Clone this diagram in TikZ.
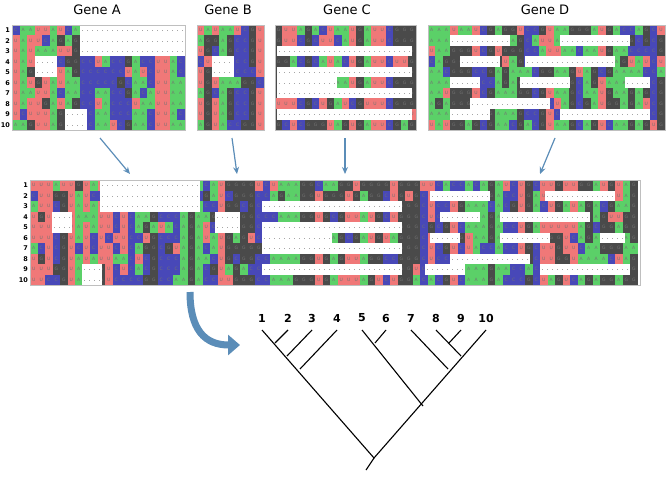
\documentclass[tikz,border=0pt]{standalone}
\usepackage{fontspec}
\setmainfont{DejaVu Sans}
\usetikzlibrary{arrows.meta}
\definecolor{cg}{HTML}{4A4A4A}
\definecolor{cb}{HTML}{4848B8}
\definecolor{ca}{HTML}{5BD068}
\definecolor{cu}{HTML}{F07878}
\definecolor{arr}{HTML}{5B8DB8}
\tikzset{gap/.style={fill=white},lt/.style={font=\fontsize{4.5}{4.5}\selectfont,text=black!55,inner sep=0},
 num/.style={font=\bfseries\fontsize{6.5}{6.5}\selectfont,anchor=east,inner sep=0},
 genel/.style={font=\fontsize{13}{13}\selectfont},
 conn/.style={arr,line width=1.2pt,-{Stealth[length=7pt,width=6pt]}},
 tree/.style={line width=1.1pt}}
\newcommand\alnpanel[5]{%
 \foreach \c in {1,...,#3}{%
  \pgfmathrandominteger{\base}{0}{3}%
  \foreach \r in {0,...,9}{%
   \pgfmathrandominteger{\v}{0}{9}%
   \ifnum\v<3 \pgfmathrandominteger{\k}{0}{3}\else\let\k\base\fi
   \ifcase\k \def\cl{cg}\def\ltr{G}\or\def\cl{cb}\def\ltr{C}\or\def\cl{ca}\def\ltr{A}\or\def\cl{cu}\def\ltr{U}\fi
   \fill[\cl] ({#1+(\c-1)*#4},{#2+\r*10.5}) rectangle ++(#4,10.5);
   \node[lt] at ({#1+(\c-0.5)*#4},{#2+\r*10.5+5.25}) {\ltr};
  }}%
 \ifnum#5=1 \foreach \r in {1,...,10}{\node[num] at ({#1-2},{#2+(\r-0.5)*10.5}) {\r};}\fi
}
\newcommand\gp[4]{\fill[gap] ({#1},{#2*10.5+#4}) rectangle ++(#3,10.5);
 \draw[black!35,dash pattern=on 1pt off 4pt] ({#1+2},{#2*10.5+#4+5.5}) -- ++(#3-4,0);}
\begin{document}
\begin{tikzpicture}[x=1pt,y=-1pt]
\pgfmathsetseed{7}
\useasboundingbox (0,0) rectangle (671,476);
\fill[white] (0,0) rectangle (671,476);
% Gene titles
\node[genel] (ga) at (97,10) {Gene A};
\node[genel] (gb) at (228,10) {Gene B};
\node[genel] (gc) at (347,10) {Gene C};
\node[genel] (gd) at (545,10) {Gene D};
% panels
\alnpanel{12}{25}{23}{7.5}{1}
\foreach \r in {0,1,2}{\gp{80}{\r}{105}{25}}
\foreach \r in {3,4}{\gp{35}{\r}{22}{25}}
\foreach \r in {8,9}{\gp{65}{\r}{22}{25}}
\alnpanel{197}{25}{9}{7.4}{0}
\foreach \r in {3,4}{\gp{212}{\r}{22}{25}}
\alnpanel{275}{25}{19}{7.4}{0}
\foreach \r in {2,4,6,8}{\gp{277}{\r}{135}{25}}
\gp{277}{5}{60}{25}
\alnpanel{428}{25}{32}{7.4}{0}
\foreach \r/\a/\w in {1/450/60,1/560/70,3/460/40,3/525/90,5/450/30,5/520/50,5/625/25,7/470/80,8/450/40,8/560/90}{\gp{\a}{\r}{\w}{25}}
\foreach \x/\w in {12/173,197/67,275/141,428/237}{\draw[black!25] (\x,25) rectangle ++(\w,105);}
% combined
\alnpanel{30}{180}{81}{7.5}{1}
\foreach \r in {0,1,2}{\gp{100}{\r}{100}{180}}
\foreach \r in {3,4}{\gp{52}{\r}{20}{180}\gp{215}{\r}{25}{180}}
\foreach \r in {8,9}{\gp{82}{\r}{20}{180}}
\foreach \r in {2,4,6,8}{\gp{262}{\r}{140}{180}}
\foreach \r in {5}{\gp{262}{\r}{70}{180}}
\foreach \r/\a/\w in {1/430/60,1/545/70,3/440/40,3/500/90,5/430/30,5/500/50,5/600/25,7/450/80,8/425/40,8/540/90}{\gp{\a}{\r}{\w}{180}}
\draw[black!25] (30,180) rectangle (640,285);
% arrows
\coordinate (a1) at (100,138); \coordinate (b1) at (130,174);
\coordinate (a2) at (232,138); \coordinate (b2) at (237,174);
\coordinate (a3) at (345,138); \coordinate (b3) at (345,174);
\coordinate (a4) at (555,138); \coordinate (b4) at (540,174);
\foreach \i in {1,...,4}{\draw[conn] (a\i) -- (b\i);}
\coordinate (c1) at (190,292); \coordinate (c2) at (240,345);
\draw[arr,line width=7pt,-{Triangle[length=12pt,width=20pt]}] (c1) .. controls (190,330) and (205,345) .. (c2);
% tree
\foreach \i/\x in {1/262,2/288,3/312,4/337,5/362,6/386,7/411,8/436,9/461,10/486}{
 \node[font=\bfseries\fontsize{11}{11}\selectfont,inner sep=0] (l\i) at (\x,318) {\i};
 \coordinate (t\i) at (\x,330);}
\coordinate (root) at (374,458); \coordinate (bot) at (366,470);
\coordinate (n2) at (275,343); \coordinate (n3) at (287,356); \coordinate (n4) at (300,369);
\coordinate (n6) at (375,343); \coordinate (n9) at (449,343); \coordinate (n10) at (461,356);
\coordinate (n7) at (448,369); \coordinate (nr) at (423,406);
\draw[tree] (t1) -- (root) -- (t10);
\draw[tree] (t2) -- (n2); \draw[tree] (t3) -- (n3); \draw[tree] (t4) -- (n4);
\draw[tree] (t5) -- (nr); \draw[tree] (t6) -- (n6);
\draw[tree] (t7) -- (n7); \draw[tree] (t8) -- (n10); \draw[tree] (t9) -- (n9);
\draw[tree] (root) -- (bot);
\end{tikzpicture}
\end{document}
